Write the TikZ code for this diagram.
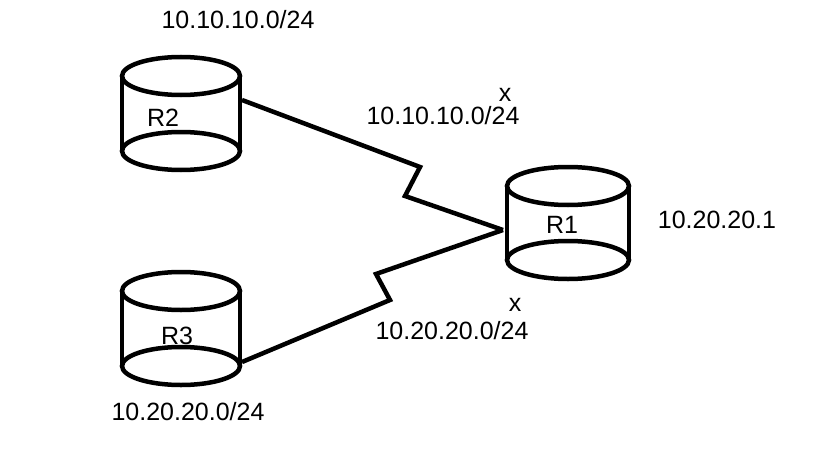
\documentclass[tikz,border=0pt]{standalone}
\usepackage{fontspec}
\setmainfont{Liberation Sans}
\usetikzlibrary{positioning}

\tikzset{
  rtr/.style={line width=4.5pt},
  link/.style={line width=4.5pt},
  lbl/.style={font=\fontsize{25}{30}\selectfont, inner sep=0pt}
}

% cylinder: centre x, top y, bottom y, half width
\newcommand{\router}[5]{%
  \draw[rtr] (#2,#3) ellipse [x radius=#5, y radius=19];
  \draw[rtr] (#2,#4) ellipse [x radius=#5, y radius=19];
  \draw[rtr] (#2-#5,#3) -- (#2-#5,#4);
  \draw[rtr] (#2+#5,#3) -- (#2+#5,#4);
  \coordinate (#1) at (#2,#3);
}

\begin{document}
\begin{tikzpicture}[x=1pt,y=-1pt]
    \useasboundingbox (0,0) rectangle (819,460);

    \router{r2}{181}{76}{151}{59}
    \router{r1}{568}{186}{260}{61}
    \router{r3}{181}{291}{366}{59}

    \coordinate (r2p) at (242,100);
    \coordinate (r3p) at (242,362);
    \coordinate (r1p) at (503,230);
    \coordinate (z1a) at (420,167);
    \coordinate (z1b) at (405,196);
    \coordinate (z3a) at (390,300);
    \coordinate (z3b) at (376,274);

    \draw[link, line join=miter] (r2p) -- (z1a) -- (z1b) -- (r1p);
    \draw[link, line join=miter] (r3p) -- (z3a) -- (z3b) -- (r1p);

    \node[lbl] (n2)  at (238,20)  {10.10.10.0/24};
    \node[lbl] (l2)  at (163,118) {R2};
    \node[lbl] (x1)  at (505,95)  {x};
    \node[lbl] (s1)  at (443,116) {10.10.10.0/24};
    \node[lbl] (l1)  at (562,225) {R1};
    \node[lbl] (ip1) at (717,220) {10.20.20.1};
    \node[lbl] (l3)  at (177,336) {R3};
    \node[lbl] (x3)  at (515,305) {x};
    \node[lbl] (s3)  at (452,331) {10.20.20.0/24};
    \node[lbl] (n3)  at (188,412) {10.20.20.0/24};
\end{tikzpicture}
\end{document}
